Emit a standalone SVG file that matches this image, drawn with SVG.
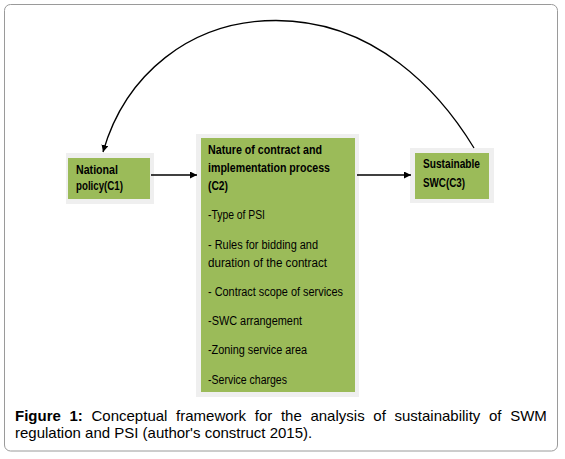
<svg xmlns="http://www.w3.org/2000/svg" width="565" height="459" viewBox="0 0 565 459">
<defs>
<marker id="arr" viewBox="0 0 7 7" refX="7" refY="3.5" markerWidth="7" markerHeight="7" markerUnits="userSpaceOnUse" orient="auto">
<path d="M0,0 L7,3.5 L0,7 z" fill="#000"/>
</marker>
<style>
.frame{fill:#EFEFEF;}
.box{fill:#9BBB59;}
.b{font-family:"Liberation Sans",Arial,sans-serif;font-size:12.5px;font-weight:bold;fill:#000;}
.r{font-family:"Liberation Sans",Arial,sans-serif;font-size:12.5px;fill:#000;}
.cap{font-family:"Liberation Sans",Arial,sans-serif;font-size:15px;fill:#000;}
.conn{fill:none;stroke:#000;stroke-width:1.3;marker-end:url(#arr);}
</style>
</defs>
<rect x="0" y="0" width="565" height="459" fill="#fff"/>
<rect x="4.5" y="4.5" width="553" height="446.5" rx="6" ry="6" fill="#fff" stroke="#9a9a9a" stroke-width="1"/>

<g id="c1">
<rect class="frame" x="66" y="153" width="88" height="51"/>
<rect class="box" x="68" y="158" width="82" height="41"/>
<text class="b" x="76" y="174" textLength="42" lengthAdjust="spacingAndGlyphs">National</text>
<text class="b" x="76" y="190" textLength="47" lengthAdjust="spacingAndGlyphs">policy(C1)</text>
</g>

<g id="c2">
<rect class="frame" x="196" y="134" width="163" height="263"/>
<rect class="box" x="201" y="138" width="154" height="254"/>
<text class="b" x="208" y="154" textLength="114" lengthAdjust="spacingAndGlyphs">Nature of contract and</text>
<text class="b" x="208" y="172" textLength="122" lengthAdjust="spacingAndGlyphs">implementation process</text>
<text class="b" x="208" y="190" textLength="20" lengthAdjust="spacingAndGlyphs">(C2)</text>
<text class="r" x="208" y="219" textLength="57" lengthAdjust="spacingAndGlyphs">-Type of PSI</text>
<text class="r" x="208" y="249" textLength="110" lengthAdjust="spacingAndGlyphs">- Rules for bidding and</text>
<text class="r" x="208" y="267" textLength="119" lengthAdjust="spacingAndGlyphs">duration of the contract</text>
<text class="r" x="208" y="296" textLength="135" lengthAdjust="spacingAndGlyphs">- Contract scope of services</text>
<text class="r" x="208" y="325" textLength="94" lengthAdjust="spacingAndGlyphs">-SWC arrangement</text>
<text class="r" x="208" y="354" textLength="99" lengthAdjust="spacingAndGlyphs">-Zoning service area</text>
<text class="r" x="208" y="384" textLength="79" lengthAdjust="spacingAndGlyphs">-Service charges</text>
</g>

<g id="c3">
<rect class="frame" x="410" y="148" width="84" height="55"/>
<rect class="box" x="415" y="153" width="74" height="46"/>
<text class="b" x="423" y="168" textLength="57" lengthAdjust="spacingAndGlyphs">Sustainable</text>
<text class="b" x="423" y="187" textLength="42" lengthAdjust="spacingAndGlyphs">SWC(C3)</text>
</g>

<g id="connectors">
<path class="conn" d="M151,175 L197,175"/>
<path class="conn" d="M357,175 L411,175"/>
<path class="conn" d="M474,148 C440,92 375,20.5 276,20.5 C190,20.5 125,75 103,152"/>
</g>

<g id="caption">
<text class="cap" x="15" y="421" word-spacing="4.5"><tspan font-weight="bold">Figure 1:</tspan> Conceptual framework for the analysis of sustainability of SWM</text>
<text class="cap" x="15" y="438">regulation and PSI (author's construct 2015).</text>
</g>
</svg>
